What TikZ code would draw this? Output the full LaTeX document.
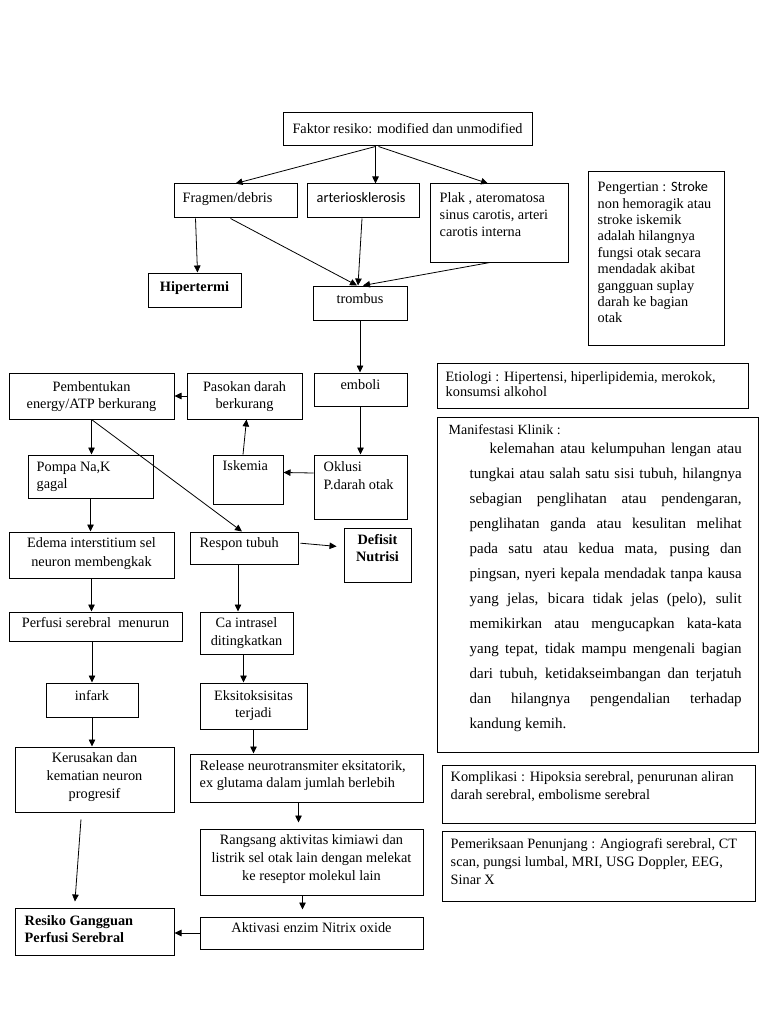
\documentclass[tikz,border=0pt]{standalone}
\usepackage{fontspec}
\setmainfont{Liberation Serif}
\newfontfamily\calibri{Carlito}
\usetikzlibrary{positioning,arrows.meta}
\tolerance=10000 \hbadness=10000
\hyphenpenalty=10000 \exhyphenpenalty=10000

\tikzset{
  box/.style={draw, line width=1pt, inner sep=0pt},
  txt/.style={inner sep=0pt, font=\fontsize{14.3}{17}\selectfont},
  arr/.style={line width=0.8pt, -{Triangle[length=7pt,width=6.5pt]}}
}

\begin{document}
\begin{tikzpicture}[x=1pt,y=-1pt]
  \useasboundingbox[fill=white] (0,0) rectangle (768,1024);

  % top part
  \node[box, minimum width=249pt, minimum height=33pt] (faktor) at (407.5,129.5) {};
  \node[txt, below=11pt of faktor.north] (faktor-t) {Faktor resiko: modified dan unmodified};
  \node[box, minimum width=123pt, minimum height=34pt] (frag) at (235.5,201) {};
  \node[txt, below right=9pt and 9pt of frag.north west] (frag-t) {Fragmen/debris};
  \node[box, minimum width=112pt, minimum height=34pt] (arterio) at (363,201) {};
  \node[txt, below right=9pt and 10pt of arterio.north west] (arterio-t) {\calibri arteriosklerosis};
  \node[box, minimum width=138pt, minimum height=78pt] (plak) at (499,223) {};
  \node[txt, align=left, below right=9pt and 10pt of plak.north west] (plak-t)
    {Plak , ateromatosa\\sinus carotis, arteri\\carotis interna};
  \node[box, minimum width=93pt, minimum height=34pt] (hiper) at (194.5,290) {};
  \node[txt, font=\fontsize{14.3}{17}\selectfont\bfseries, below=9pt of hiper.north] (hiper-t) {Hipertermi};
  \node[box, minimum width=94pt, minimum height=34pt] (trombus) at (360,303) {};
  \node[txt, below=8pt of trombus.north] (trombus-t) {trombus};

  % info boxes on the right
  \node[box, minimum width=136pt, minimum height=173pt] (pengertian) at (656,258.5) {};
  \node[txt, font=\fontsize{14.3}{16.4}\selectfont, align=left,
        below right=10pt and 10pt of pengertian.north west] (pengertian-t)
    {Pengertian : {\calibri Stroke}\\non hemoragik atau\\stroke iskemik\\adalah hilangnya\\fungsi otak secara\\mendadak akibat\\gangguan suplay\\darah ke bagian\\otak};
  \node[box, minimum width=311pt, minimum height=45pt] (etiologi) at (592.5,385.5) {};
  \node[txt, font=\fontsize{14.3}{15}\selectfont, align=left,
        below right=9pt and 9pt of etiologi.north west] (etiologi-t)
    {Etiologi : Hipertensi, hiperlipidemia, merokok,\\konsumsi alkohol};
  \node[box, minimum width=321pt, minimum height=335pt] (manifest) at (597.5,584.5) {};
  \node[txt, font=\fontsize{14}{17}\selectfont, below right=8pt and 12pt of manifest.north west] (manifest-h)
    {Manifestasi Klinik :};
  \node[txt, font=\fontsize{15}{25}\selectfont, text width=272pt, align=justify,
        below right=26pt and 33pt of manifest.north west] (manifest-t)
    {\hspace*{20pt}kelemahan atau kelumpuhan lengan atau\linebreak
     tungkai atau salah satu sisi tubuh, hilangnya\linebreak
     sebagian penglihatan atau pendengaran,\linebreak
     penglihatan ganda atau kesulitan melihat\linebreak
     pada satu atau kedua mata, pusing dan\linebreak
     pingsan, nyeri kepala mendadak tanpa kausa\linebreak
     yang jelas, bicara tidak jelas (pelo), sulit\linebreak
     memikirkan atau mengucapkan kata-kata\linebreak
     yang tepat, tidak mampu mengenali bagian\linebreak
     dari tubuh, ketidakseimbangan dan terjatuh\linebreak
     dan hilangnya pengendalian terhadap\linebreak
     kandung kemih.};
  \node[box, minimum width=313pt, minimum height=58pt] (komplikasi) at (598.5,794) {};
  \node[txt, font=\fontsize{14.3}{18}\selectfont, align=left,
        below right=7pt and 9pt of komplikasi.north west] (komplikasi-t)
    {Komplikasi : Hipoksia serebral, penurunan aliran\\darah serebral, embolisme serebral};
  \node[box, minimum width=313pt, minimum height=70pt] (periksa) at (598.5,866) {};
  \node[txt, font=\fontsize{14.3}{18}\selectfont, align=left,
        below right=8pt and 9pt of periksa.north west] (periksa-t)
    {Pemeriksaan Penunjang : Angiografi serebral, CT\\scan, pungsi lumbal, MRI, USG Doppler, EEG,\\Sinar X};

  % middle part
  \node[box, minimum width=165pt, minimum height=46pt] (pemb) at (91.5,396) {};
  \node[txt, align=center, below=9pt of pemb.north] (pemb-t) {Pembentukan\\energy/ATP berkurang};
  \node[box, minimum width=115pt, minimum height=46pt] (pasokan) at (244.5,396) {};
  \node[txt, align=center, below=9pt of pasokan.north] (pasokan-t) {Pasokan darah\\berkurang};
  \node[box, minimum width=93pt, minimum height=33pt] (emboli) at (360.5,389.5) {};
  \node[txt, below=7pt of emboli.north] (emboli-t) {emboli};
  \node[box, minimum width=125pt, minimum height=43pt] (pompa) at (90.5,476.5) {};
  \node[txt, align=left, below right=7pt and 9pt of pompa.north west] (pompa-t) {Pompa Na,K\\gagal};
  \node[box, minimum width=70pt, minimum height=49pt] (iskemia) at (248,479.5) {};
  \node[txt, below right=6pt and 10pt of iskemia.north west] (iskemia-t) {Iskemia};
  \node[box, minimum width=93pt, minimum height=64pt] (oklusi) at (360.5,487) {};
  \node[txt, font=\fontsize{14.3}{18}\selectfont, align=left,
        below right=7pt and 10pt of oklusi.north west] (oklusi-t) {Oklusi\\P.darah otak};
  \node[box, minimum width=165pt, minimum height=46pt] (edema) at (91.5,555) {};
  \node[txt, font=\fontsize{14.3}{18.5}\selectfont, align=center, below=6pt of edema.north] (edema-t)
    {Edema interstitium sel\\neuron membengkak};
  \node[box, minimum width=108pt, minimum height=32pt] (respon) at (244,548) {};
  \node[txt, below right=6pt and 10pt of respon.north west] (respon-t) {Respon tubuh};
  \node[box, minimum width=67pt, minimum height=54pt] (defisit) at (377.5,555) {};
  \node[txt, font=\fontsize{14.3}{17}\selectfont\bfseries, align=center, below=7pt of defisit.north] (defisit-t)
    {Defisit\\Nutrisi};

  % lower part
  \node[box, minimum width=173pt, minimum height=29pt] (perfusi) at (95.5,626.5) {};
  \node[txt, below=6pt of perfusi.north] (perfusi-t) {Perfusi serebral\ \ menurun};
  \node[box, minimum width=93pt, minimum height=42pt] (ca) at (246.5,633) {};
  \node[txt, font=\fontsize{14.3}{18}\selectfont, align=center, below=6pt of ca.north] (ca-t)
    {Ca intrasel\\ditingkatkan};
  \node[box, minimum width=92pt, minimum height=34pt] (infark) at (92,700) {};
  \node[txt, below=8pt of infark.north] (infark-t) {infark};
  \node[box, minimum width=107pt, minimum height=46pt] (eksito) at (253.5,706) {};
  \node[txt, align=center, below=8pt of eksito.north] (eksito-t) {Eksitoksisitas\\terjadi};
  \node[box, minimum width=159pt, minimum height=65pt] (kerusakan) at (94.5,779.5) {};
  \node[txt, font=\fontsize{14.3}{18}\selectfont, align=center, below=6pt of kerusakan.north] (kerusakan-t)
    {Kerusakan dan\\kematian neuron\\progresif};
  \node[box, minimum width=233pt, minimum height=48pt] (release) at (306.5,778) {};
  \node[txt, align=left, below right=7pt and 10pt of release.north west] (release-t)
    {Release neurotransmiter eksitatorik,\\ex glutama dalam jumlah berlebih};
  \node[box, minimum width=223pt, minimum height=66pt] (rangsang) at (311.5,862) {};
  \node[txt, font=\fontsize{14.3}{18}\selectfont, align=center, below=6pt of rangsang.north] (rangsang-t)
    {Rangsang aktivitas kimiawi dan\\listrik sel otak lain dengan melekat\\ke reseptor molekul lain};
  \node[box, minimum width=159pt, minimum height=47pt] (resiko) at (94.5,931.5) {};
  \node[txt, font=\fontsize{14.3}{17}\selectfont\bfseries, align=left,
        below right=8pt and 10pt of resiko.north west] (resiko-t) {Resiko Gangguan\\Perfusi Serebral};
  \node[box, minimum width=223pt, minimum height=32pt] (aktivasi) at (311.5,933) {};
  \node[txt, below=6pt of aktivasi.north] (aktivasi-t) {Aktivasi enzim Nitrix oxide};

  % arrows
  \coordinate (fk) at ([xshift=-32pt]faktor.south);
  \draw[arr] (fk) -- (frag.north);
  \draw[arr] (fk) -- (fk |- arterio.north);
  \draw[arr] ([xshift=-29pt]faktor.south) -- ([xshift=-11pt]plak.north);
  \draw[arr] ([xshift=-40pt]frag.south) -- ([xshift=3pt]hiper.north);
  \draw[arr] ([xshift=-5pt]frag.south) -- ([xshift=-3pt]trombus.north);
  \draw[arr] ([xshift=-1pt]arterio.south) -- ([xshift=-2pt]trombus.north);
  \draw[arr] ([xshift=-9pt]plak.south) -- ([xshift=3pt]trombus.north);
  \draw[arr] (trombus.south) -- (trombus.south |- emboli.north);
  \draw[arr] (emboli.south) -- (emboli.south |- oklusi.north);
  \draw[arr] ([yshift=14pt]oklusi.west) -- ([yshift=7pt]iskemia.east);
  \draw[arr] ([xshift=-5pt]iskemia.north) -- ([xshift=2pt]pasokan.south);
  \draw[arr] (pasokan.west) -- (pasokan.west -| pemb.east);
  \draw[arr] (pemb.south) -- (pemb.south |- pompa.north);
  \draw[arr] (pemb.south) -- ([xshift=-2pt]respon.north);
  \draw[arr] (pompa.south) -- (pompa.south |- edema.north);
  \draw[arr, shorten <=2pt, shorten >=7pt] ([yshift=5pt]respon.east) -- ([yshift=8pt]defisit.west);
  \draw[arr] (edema.south) -- (edema.south |- perfusi.north);
  \coordinate (rs) at ([xshift=-6pt]respon.south);
  \draw[arr] (rs) -- (rs |- ca.north);
  \draw[arr] (infark.north |- perfusi.south) -- (infark.north);
  \coordinate (cs) at ([xshift=-3pt]ca.south);
  \draw[arr] (cs) -- (cs |- eksito.north);
  \draw[arr] (infark.south) -- (infark.south |- kerusakan.north);
  \draw[arr] (eksito.south) -- (eksito.south |- release.north);
  \draw[arr, shorten <=7pt, shorten >=6pt] ([xshift=-13pt]kerusakan.south) -- ([xshift=-20pt]resiko.north);
  \coordinate (rl) at ([xshift=-8pt]release.south);
  \draw[arr, shorten >=6pt] (rl) -- (rl |- rangsang.north);
  \coordinate (rg) at ([xshift=-9pt]rangsang.south);
  \draw[arr, shorten >=7pt] (rg) -- (rg |- aktivasi.north);
  \draw[arr] (aktivasi.west) -- (aktivasi.west -| resiko.east);
\end{tikzpicture}
\end{document}
